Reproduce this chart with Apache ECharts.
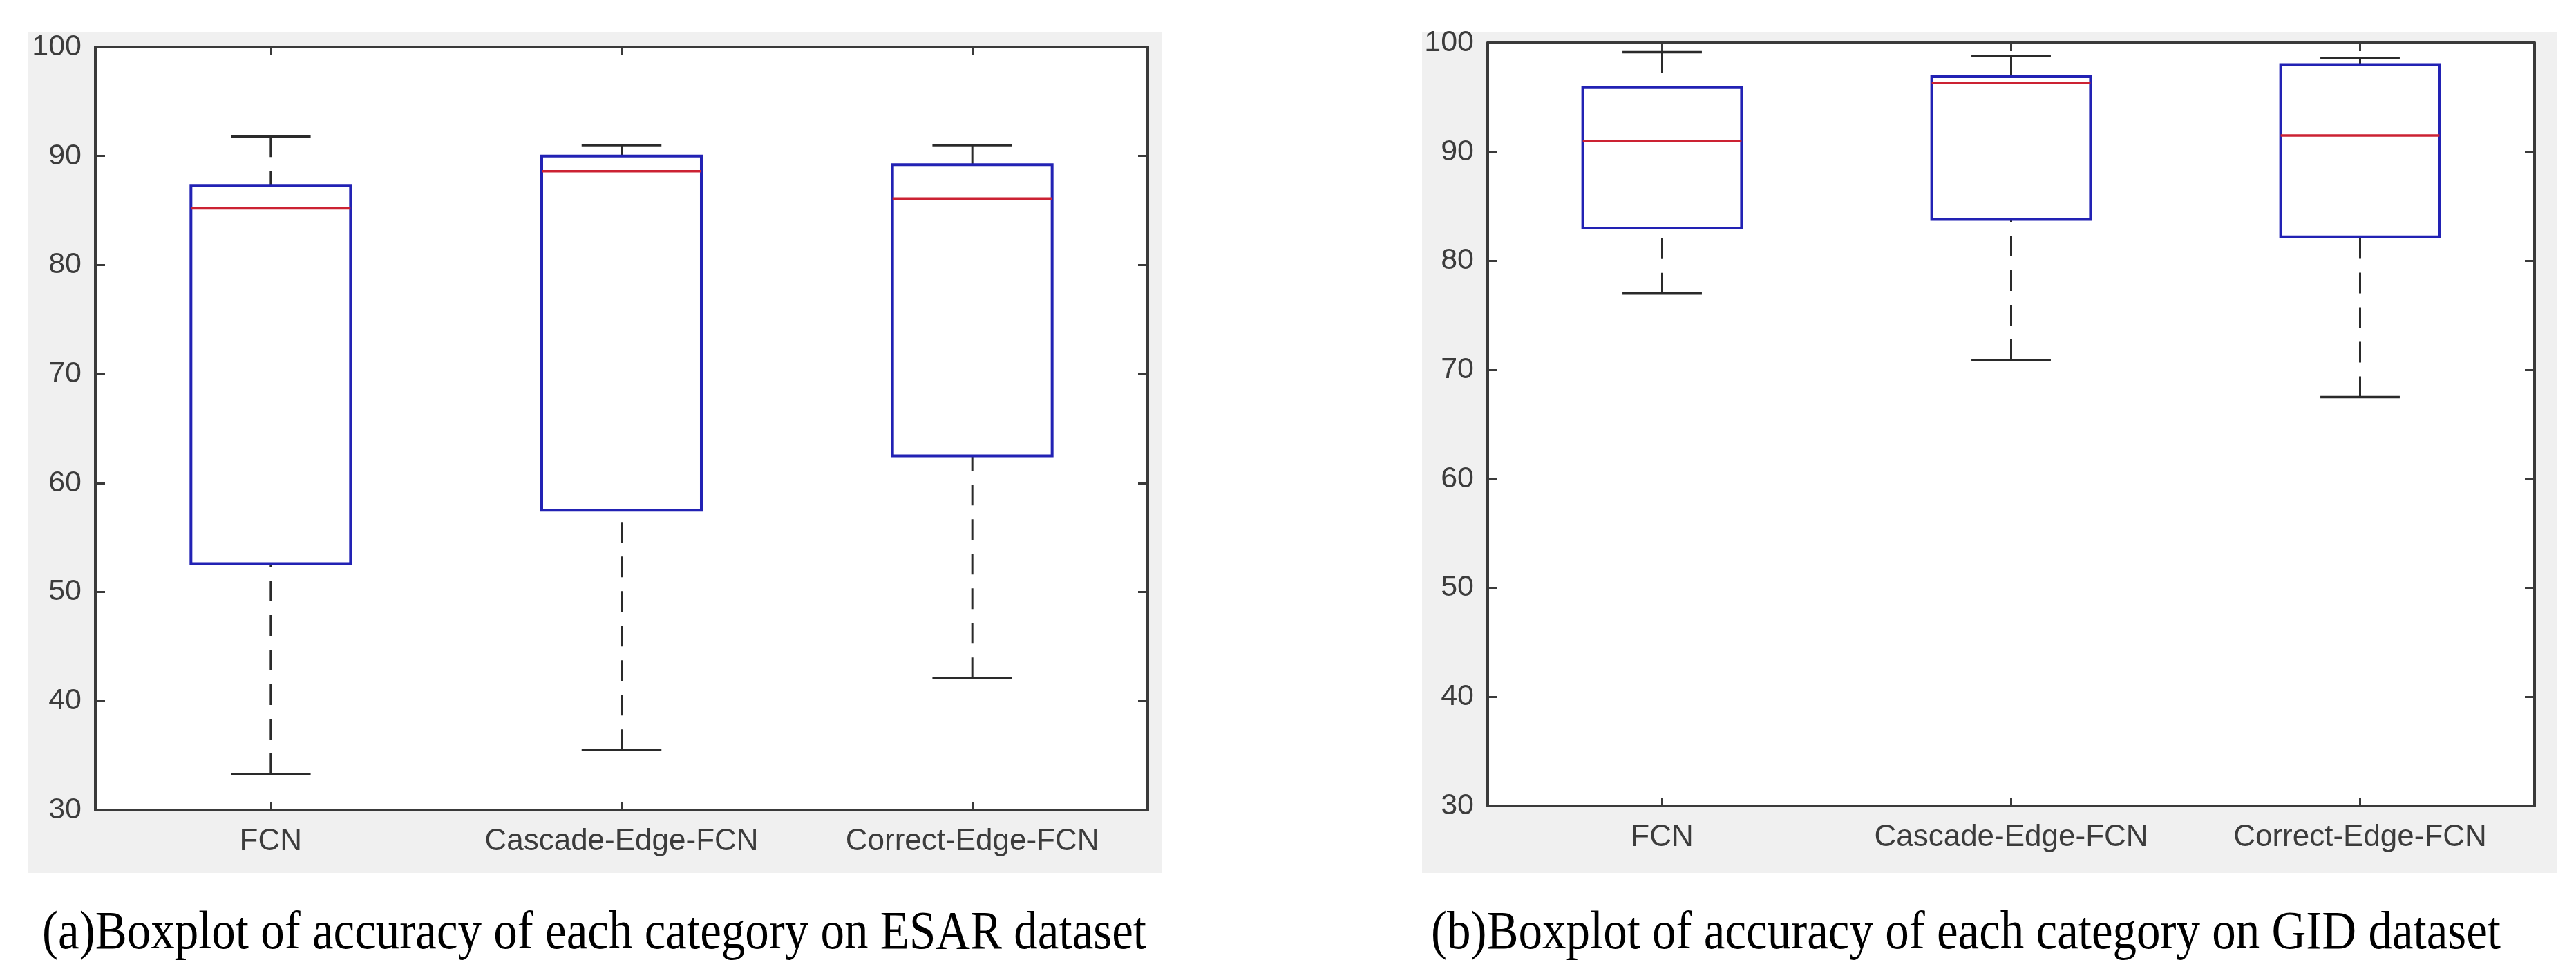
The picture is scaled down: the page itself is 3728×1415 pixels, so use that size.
<!DOCTYPE html>
<html>
<head>
<meta charset="utf-8">
<script src="https://cdn.jsdelivr.net/npm/echarts@6/dist/echarts.min.js"></script>
<style>
html, body { margin: 0; padding: 0; background: #ffffff; }
#c { width: 3728px; height: 1415px; }
</style>
</head>
<body>
<div id="c"></div>
<script>
// ---- data ----
const categories = ['FCN', 'Cascade-Edge-FCN', 'Correct-Edge-FCN'];

// (a) ESAR dataset
const esarMin    = [33.3, 35.5, 42.1];
const esarQ1     = [52.6, 57.5, 62.5];
const esarMedian = [85.2, 88.6, 86.1];
const esarQ3     = [87.3, 90.0, 89.2];
const esarMax    = [91.8, 91.0, 91.0];

// (b) GID dataset
const gidMin    = [77.0, 70.9, 67.5];
const gidQ1     = [83.0, 83.8, 82.2];
const gidMedian = [91.0, 96.3, 91.5];
const gidQ3     = [95.9, 96.9, 98.0];
const gidMax    = [99.15, 98.8, 98.6];

const yMin = 30, yMax = 100, yInterval = 10;

const captionA = '(a)Boxplot of accuracy of each category on ESAR dataset';
const captionB = '(b)Boxplot of accuracy of each category on GID dataset';

// ---- build ----
function rows(mins, q1s, meds, q3s, maxs) {
  return categories.map((c, i) => [i, mins[i], q1s[i], meds[i], q3s[i], maxs[i]]);
}

const AXIS_COLOR = '#3a3a3a';
const LABEL_COLOR = '#3c3c3c';
const BOX_COLOR = '#2222b4';
const MED_COLOR = '#cc2233';
const WHISK_COLOR = '#2a2a2a';

function renderBox(params, api) {
  const i = api.value(0);
  const pMin = api.coord([i, api.value(1)]);
  const pQ1 = api.coord([i, api.value(2)]);
  const pMed = api.coord([i, api.value(3)]);
  const pQ3 = api.coord([i, api.value(4)]);
  const pMax = api.coord([i, api.value(5)]);
  const band = api.size([1, 0])[0];
  const bw = band * 0.455;
  const cw = bw / 2;
  const cx = pMed[0];
  const wStyle = { stroke: WHISK_COLOR, lineWidth: 3, lineDash: [30, 20], fill: 'none' };
  const cStyle = { stroke: WHISK_COLOR, lineWidth: 3.5, fill: 'none' };
  return {
    type: 'group',
    children: [
      { type: 'line', shape: { x1: cx, y1: pMax[1], x2: cx, y2: pQ3[1] }, style: wStyle },
      { type: 'line', shape: { x1: cx, y1: pMin[1], x2: cx, y2: pQ1[1] }, style: wStyle },
      { type: 'line', shape: { x1: cx - cw / 2, y1: pMax[1], x2: cx + cw / 2, y2: pMax[1] }, style: cStyle },
      { type: 'line', shape: { x1: cx - cw / 2, y1: pMin[1], x2: cx + cw / 2, y2: pMin[1] }, style: cStyle },
      { type: 'rect', shape: { x: cx - bw / 2, y: pQ3[1], width: bw, height: pQ1[1] - pQ3[1] },
        style: { fill: 'none', stroke: BOX_COLOR, lineWidth: 4 } },
      { type: 'line', shape: { x1: cx - bw / 2, y1: pMed[1], x2: cx + bw / 2, y2: pMed[1] },
        style: { stroke: MED_COLOR, lineWidth: 3.5 } }
    ]
  };
}

function xAxisPair(gridIndex) {
  const common = {
    type: 'category', data: categories, gridIndex: gridIndex, boundaryGap: true,
    axisLine: { show: true, onZero: false, lineStyle: { color: AXIS_COLOR, width: 4 } },
    axisTick: { show: true, inside: true, alignWithLabel: true, length: 12, lineStyle: { color: AXIS_COLOR, width: 3 } },
    splitLine: { show: false }
  };
  return [
    Object.assign({}, common, { position: 'bottom',
      axisLabel: { show: true, margin: 24, color: LABEL_COLOR, fontSize: 44, fontFamily: 'Liberation Sans, Arial, sans-serif', interval: 0 } }),
    Object.assign({}, common, { position: 'top', axisLabel: { show: false } })
  ];
}

function yAxisPair(gridIndex) {
  const common = {
    type: 'value', gridIndex: gridIndex, min: yMin, max: yMax, interval: yInterval,
    axisLine: { show: true, onZero: false, lineStyle: { color: AXIS_COLOR, width: 4 } },
    axisTick: { show: true, inside: true, length: 14, lineStyle: { color: AXIS_COLOR, width: 3 } },
    splitLine: { show: false }
  };
  return [
    Object.assign({}, common, { position: 'left',
      axisLabel: { show: true, margin: 20, color: LABEL_COLOR, fontSize: 43, fontFamily: 'Liberation Sans, Arial, sans-serif' } }),
    Object.assign({}, common, { position: 'right', axisLabel: { show: false } })
  ];
}

const option = {
  backgroundColor: '#ffffff',
  animation: false,
  graphic: [
    { type: 'rect', z: -1, silent: true, shape: { x: 40, y: 47, width: 1642, height: 1216 }, style: { fill: '#f0f0f0' } },
    { type: 'rect', z: -1, silent: true, shape: { x: 2058, y: 47, width: 1642, height: 1216 }, style: { fill: '#f0f0f0' } },
    { type: 'text', x: 860, y: 1352, scaleY: 1.12,
      style: { text: captionA, fill: '#000000', font: '69px "Liberation Serif", "Times New Roman", serif', textAlign: 'center', textVerticalAlign: 'middle' } },
    { type: 'text', x: 2845, y: 1352, scaleY: 1.12,
      style: { text: captionB, fill: '#000000', font: '69px "Liberation Serif", "Times New Roman", serif', textAlign: 'center', textVerticalAlign: 'middle' } }
  ],
  grid: [
    { left: 138, top: 68, width: 1523, height: 1104, show: true, backgroundColor: '#ffffff', borderWidth: 0 },
    { left: 2153, top: 62, width: 1515, height: 1104, show: true, backgroundColor: '#ffffff', borderWidth: 0 }
  ],
  xAxis: [].concat(xAxisPair(0), xAxisPair(1)),
  yAxis: [].concat(yAxisPair(0), yAxisPair(1)),
  series: [
    { type: 'custom', name: 'ESAR', xAxisIndex: 0, yAxisIndex: 0, renderItem: renderBox,
      encode: { x: 0, y: [1, 2, 3, 4, 5] },
      data: rows(esarMin, esarQ1, esarMedian, esarQ3, esarMax) },
    { type: 'custom', name: 'GID', xAxisIndex: 2, yAxisIndex: 2, renderItem: renderBox,
      encode: { x: 0, y: [1, 2, 3, 4, 5] },
      data: rows(gidMin, gidQ1, gidMedian, gidQ3, gidMax) }
  ]
};

const chart = echarts.init(document.getElementById('c'), null, { renderer: 'canvas' });
chart.setOption(option);
</script>
</body>
</html>
